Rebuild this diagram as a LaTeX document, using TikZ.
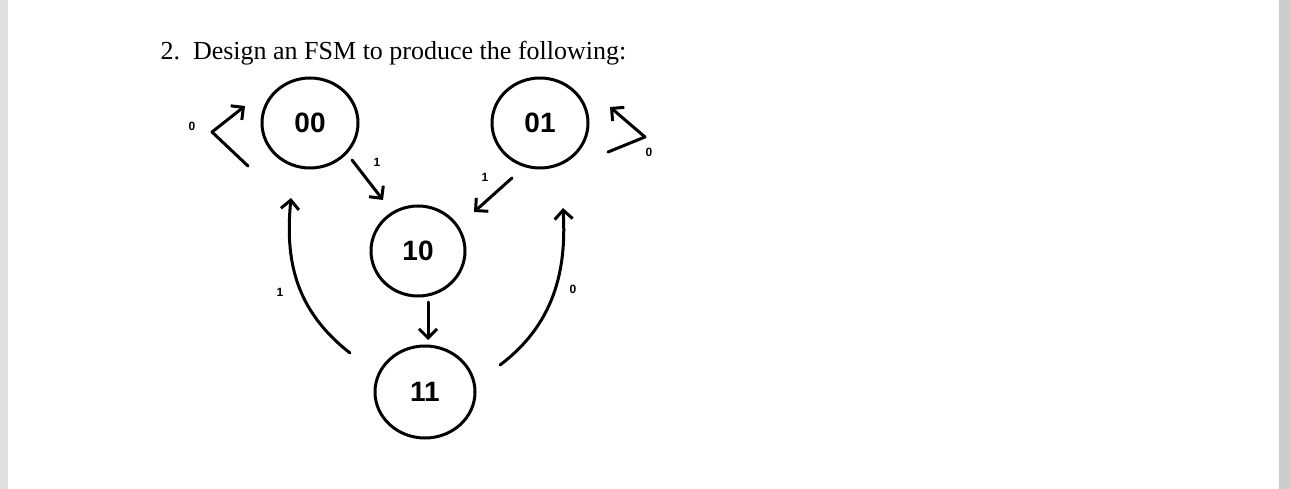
\documentclass[tikz,border=0pt]{standalone}
\usepackage{fontspec}
\setmainfont{Liberation Serif}
\newfontfamily\lsans{Liberation Sans}
\usetikzlibrary{arrows.meta,shapes.geometric}
\begin{document}
\begin{tikzpicture}[x=1pt,y=-1pt,
  st/.style={draw,line width=3pt,ellipse,minimum width=#1,font=\lsans\bfseries\fontsize{28}{28}\selectfont},
  st/.default=96pt,
  ar/.style={line width=3pt,line cap=round,line join=round,-{Straight Barb[length=9pt,width=18pt,line width=3pt]}},
  lb/.style={font=\lsans\bfseries\fontsize{12}{12}\selectfont}]
\useasboundingbox (0,0) rectangle (1290,489);
\fill[gray!25] (0,0) rectangle (8,489);
\fill[gray!40] (1279,0) rectangle (1290,489);
\node[anchor=base west,font=\fontsize{26}{26}\selectfont] (t) at (157,60) {2.\ \ Design an FSM to produce the following:};
\node[st,minimum height=90pt,inner sep=0pt] (a) at (310,123) {00};
\node[st,minimum height=90pt,inner sep=0pt] (b) at (540,123) {01};
\node[st,minimum height=90pt,minimum width=94pt,inner sep=0pt] (c) at (418,251) {10};
\node[st,minimum height=92pt,minimum width=100pt,inner sep=0pt] (d) at (425,392) {11};
\coordinate (l0) at (248,166); \coordinate (l1) at (212,132); \coordinate (l2) at (245,106);
\draw[ar] (l0) -- (l1) -- (l2);
\coordinate (r0) at (608,152); \coordinate (r1) at (645,137); \coordinate (r2) at (610,107);
\draw[ar] (r0) -- (r1) -- (r2);
\node[lb] (la) at (192,126) {0};
\node[lb] (lr) at (649,152) {0};
\coordinate (p1) at (352,160); \coordinate (p2) at (383,200);
\draw[ar] (p1) -- (p2);
\node[lb] (l3) at (377,162) {1};
\coordinate (q1) at (512,178); \coordinate (q2) at (474,212);
\draw[ar] (q1) -- (q2);
\node[lb] (l4) at (485,177) {1};
\coordinate (s1) at (428,302); \coordinate (s2) at (428,340);
\draw[ar] (s1) -- (s2);
\coordinate (u1) at (350,353); \coordinate (u2) at (291,198);
\draw[ar] (u1) .. controls (295,310) and (285,260) .. (u2);
\node[lb] (l5) at (280,292) {1};
\coordinate (v1) at (500,365); \coordinate (v2) at (563,208);
\draw[ar] (v1) .. controls (560,320) and (566,260) .. (v2);
\node[lb] (l6) at (573,289) {0};
\end{tikzpicture}
\end{document}
